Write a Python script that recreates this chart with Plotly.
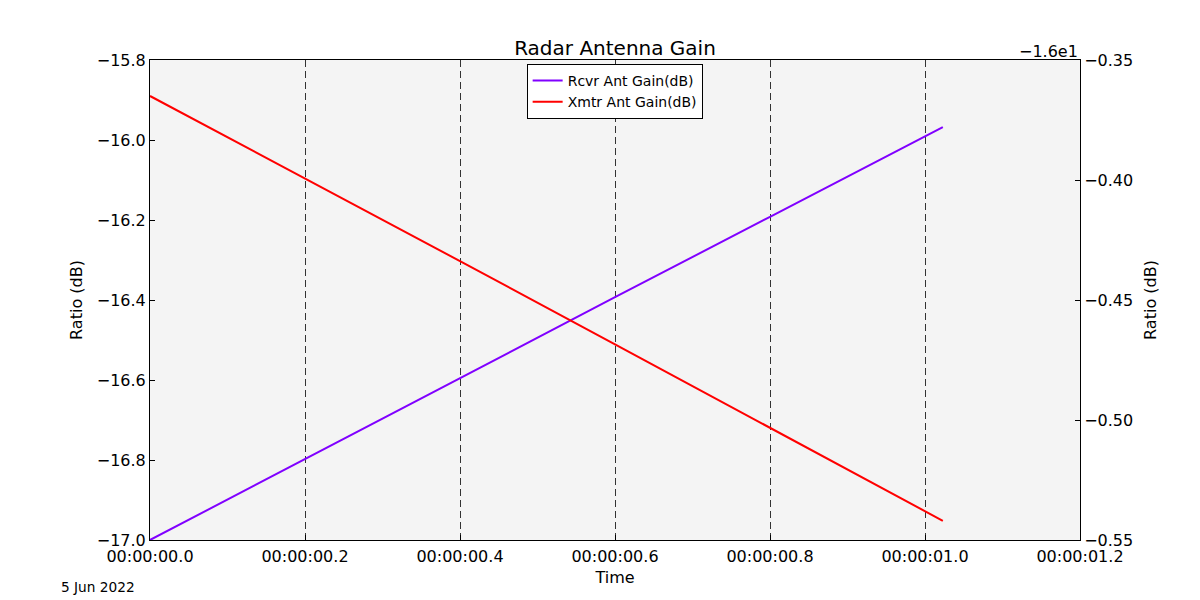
import plotly.graph_objects as go

time_s = [0.0, 0.2, 0.4, 0.6, 0.8, 1.0, 1.023]
rcvr_gain = [-17.0, -16.797, -16.595, -16.393, -16.192, -15.99, -15.968]
xmtr_gain = [-16.365, -16.3993, -16.4338, -16.4685, -16.5032, -16.5380, -16.5420]

x_tickvals = [0.0, 0.2, 0.4, 0.6, 0.8, 1.0, 1.2]
x_ticktext = ["00:00:00.0", "00:00:00.2", "00:00:00.4", "00:00:00.6",
              "00:00:00.8", "00:00:01.0", "00:00:01.2"]
y_tickvals = [-17.0, -16.8, -16.6, -16.4, -16.2, -16.0, -15.8]
y_ticktext = ["\u221217.0", "\u221216.8", "\u221216.6", "\u221216.4",
              "\u221216.2", "\u221216.0", "\u221215.8"]
y2_tickvals = [-16.55, -16.50, -16.45, -16.40, -16.35]
y2_ticktext = ["\u22120.55", "\u22120.50", "\u22120.45", "\u22120.40", "\u22120.35"]

tick_font = dict(family="DejaVu Sans", size=16, color="black")
title_font = dict(family="DejaVu Sans", size=16, color="black")

fig = go.Figure()
fig.add_trace(go.Scatter(x=time_s, y=rcvr_gain, mode="lines", name="Rcvr Ant Gain(dB)",
                         line=dict(color="#8000ff", width=2), yaxis="y"))
fig.add_trace(go.Scatter(x=time_s, y=xmtr_gain, mode="lines", name="Xmtr Ant Gain(dB)",
                         line=dict(color="#ff0000", width=2), yaxis="y2"))

fig.update_layout(
    width=1200, height=600,
    margin=dict(l=150, r=120, t=60, b=60),
    paper_bgcolor="white",
    plot_bgcolor="#f4f4f4",
    title=dict(text="Radar Antenna Gain", x=0.5125, xanchor="center", y=0.908, yanchor="bottom",
               font=dict(family="DejaVu Sans", size=20, color="black")),
    xaxis=dict(range=[0, 1.2], tickvals=x_tickvals, ticktext=x_ticktext,
               tickfont=tick_font, ticks="inside", ticklen=5, tickcolor="black",
               ticklabelstandoff=2,
               showline=True, linecolor="black", linewidth=1, mirror=True,
               showgrid=True, gridcolor="#333333", gridwidth=1, griddash="7px,4px",
               zeroline=False,
               title=dict(text="Time", font=title_font, standoff=6)),
    yaxis=dict(range=[-17.0, -15.8], tickvals=y_tickvals, ticktext=y_ticktext,
               tickfont=tick_font, ticks="inside", ticklen=5, tickcolor="black",
               showline=True, linecolor="black", linewidth=1, mirror=True,
               showgrid=False, zeroline=False,
               title=dict(text="Ratio (dB)", font=title_font, standoff=10)),
    yaxis2=dict(range=[-16.55, -16.35], tickvals=y2_tickvals, ticktext=y2_ticktext,
                overlaying="y", side="right",
                tickfont=tick_font, ticks="inside", ticklen=5, tickcolor="black",
                showline=True, linecolor="black", linewidth=1,
                showgrid=False, zeroline=False,
                title=dict(text="Ratio (dB)", font=title_font, standoff=12)),
    legend=dict(x=0.405, y=0.992, xanchor="left", yanchor="top",
                bgcolor="white", bordercolor="black", borderwidth=1,
                font=dict(family="DejaVu Sans", size=14, color="black"),
                tracegroupgap=0),
    showlegend=True,
)

fig.add_annotation(text="\u22121.6e1", xref="paper", yref="paper", x=1.0, y=1.0,
                   xanchor="right", yanchor="bottom", showarrow=False, yshift=-3,
                   font=tick_font)
fig.add_annotation(text="5 Jun 2022", xref="paper", yref="paper",
                   x=(59 - 150) / 930, y=(540 - 587) / 480,
                   xanchor="left", yanchor="middle", showarrow=False,
                   font=dict(family="DejaVu Sans", size=13.7, color="black"))

fig.write_html("out.html")
